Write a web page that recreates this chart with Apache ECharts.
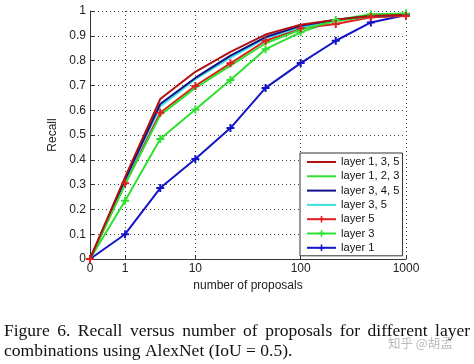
<!DOCTYPE html>
<html>
<head>
<meta charset="utf-8">
<script src="https://cdn.jsdelivr.net/npm/echarts@6/dist/echarts.min.js"></script>
<style>html,body{margin:0;padding:0;background:#fff;}#c{width:474px;height:364px;}</style>
</head>
<body>
<div id="c"></div>
<script>
const categories = ['0','1','5','10','20','50','100','200','500','1000'];
const tickLabels = ['0','1','10','100','1000'];
const seriesNames = ['layer 1, 3, 5','layer 1, 2, 3','layer 3, 4, 5','layer 3, 5','layer 5','layer 3','layer 1'];
const layer135 = [0, 0.33, 0.645, 0.755, 0.835, 0.905, 0.945, 0.965, 0.98, 0.985];
const layer123 = [0, 0.30, 0.58, 0.69, 0.78, 0.87, 0.925, 0.96, 0.98, 0.99];
const layer345 = [0, 0.32, 0.625, 0.73, 0.82, 0.895, 0.94, 0.965, 0.98, 0.985];
const layer35  = [0, 0.315, 0.615, 0.725, 0.812, 0.89, 0.935, 0.96, 0.98, 0.985];
const layer5   = [0, 0.305, 0.59, 0.698, 0.789, 0.88, 0.93, 0.948, 0.975, 0.98];
const layer3   = [0, 0.235, 0.484, 0.603, 0.722, 0.846, 0.914, 0.964, 0.987, 0.99];
const layer1   = [0, 0.1, 0.286, 0.403, 0.528, 0.69, 0.79, 0.88, 0.954, 0.984];
const xTitle = 'number of proposals';
const yTitle = 'Recall';
const caption1 = 'Figure 6. Recall versus number of proposals for different layer';
const caption2 = 'combinations using AlexNet (IoU = 0.5).';
const watermark = '知乎 @胡孟';

const colors = ['#b01010','#30e030','#10108a','#40e0e0','#e02020','#30e030','#1515c8'];
const values = [layer135, layer123, layer345, layer35, layer5, layer3, layer1];
const hasMarker = [false,false,false,false,true,true,true];
const plus = 'path://M3,0 L5,0 L5,3 L8,3 L8,5 L5,5 L5,8 L3,8 L3,5 L0,5 L0,3 L3,3 Z';

const showTick = (i, v) => tickLabels.includes(categories[i]);
const gridColor = '#444';
const sansFont = 'Liberation Sans, Arial, sans-serif';
const serifFont = 'Liberation Serif, Times New Roman, serif';
const capSize = 17.5;

// justify caption line 1 across the page width
const ctx = document.createElement('canvas').getContext('2d');
ctx.font = capSize + 'px ' + serifFont;
const words = caption1.split(' ');
const capLeft = 4, capRight = 470;
const wordsW = words.map(w => ctx.measureText(w).width);
const totalW = wordsW.reduce((a, b) => a + b, 0);
const gap = (capRight - capLeft - totalW) / (words.length - 1);
const capGraphics = [];
let cx = capLeft;
words.forEach((w, i) => {
  capGraphics.push({type: 'text', x: cx, y: 322, style: {text: w, font: capSize + 'px ' + serifFont, fill: '#111', textVerticalAlign: 'top'}});
  cx += wordsW[i] + gap;
});
capGraphics.push({type: 'text', x: capLeft, y: 342, style: {text: caption2, font: capSize + 'px ' + serifFont, fill: '#111', textVerticalAlign: 'top'}});
capGraphics.push({type: 'text', x: 388, y: 337, style: {text: watermark, font: '12.5px "Noto Sans CJK SC", sans-serif', fill: '#bbb', textVerticalAlign: 'top'}});

const chart = echarts.init(document.getElementById('c'), null, {renderer:'canvas'});
const order = [6,5,4,3,2,1,0];
chart.setOption({
  animation: false,
  backgroundColor: '#fff',
  grid: {left: 90, right: 68, top: 11, bottom: 105, containLabel: false},
  xAxis: {
    type: 'category', data: categories, boundaryGap: false,
    name: xTitle, nameLocation: 'middle', nameGap: 16,
    nameTextStyle: {fontFamily: sansFont, fontSize: 12, color: '#222'},
    axisLine: {lineStyle: {color: '#333', width: 1}},
    axisTick: {inside: true, length: 4, interval: showTick, lineStyle: {color: '#333'}},
    axisLabel: {interval: showTick, margin: 4, fontFamily: sansFont, fontSize: 12, color: '#222'},
    splitLine: {show: true, interval: showTick, lineStyle: {color: gridColor, type: [1,3], width: 1}}
  },
  yAxis: {
    type: 'value', min: 0, max: 1, interval: 0.1,
    name: yTitle, nameLocation: 'middle', nameGap: 27,
    nameTextStyle: {fontFamily: sansFont, fontSize: 12, color: '#222'},
    axisLine: {show: true, lineStyle: {color: '#333', width: 1}},
    axisTick: {show: true, inside: true, length: 4, lineStyle: {color: '#333'}},
    axisLabel: {margin: 4, fontFamily: sansFont, fontSize: 12, color: '#222',
      formatter: v => String(+v.toFixed(1))},
    splitLine: {show: true, lineStyle: {color: gridColor, type: [1,3], width: 1}}
  },
  legend: {
    orient: 'vertical', left: 300, top: 153,
    padding: [2, 3, 1, 6], itemWidth: 29, itemHeight: 8, itemGap: 0.3,
    backgroundColor: '#fff', borderColor: '#333', borderWidth: 1,
    textStyle: {fontFamily: sansFont, fontSize: 11.2, color: '#111', lineHeight: 14},
    data: seriesNames.map((n, k) => hasMarker[k] ? n : {name: n, itemStyle: {opacity: 0}})
  },
  series: order.map(k => ({
    name: seriesNames[k], type: 'line', data: values[k],
    color: colors[k],
    lineStyle: {color: colors[k], width: 2},
    itemStyle: {color: colors[k]},
    symbol: hasMarker[k] ? plus : 'none',
    symbolSize: 8, showSymbol: hasMarker[k]
  })),
  graphic: capGraphics
});
</script>
</body>
</html>
